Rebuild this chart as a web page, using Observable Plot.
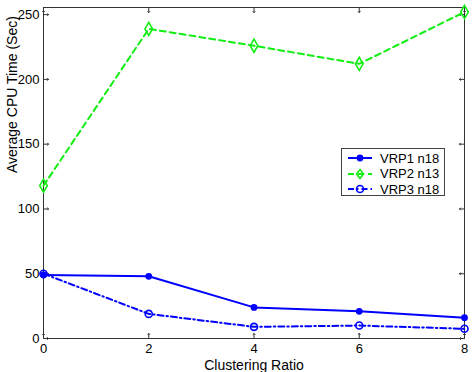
<!DOCTYPE html>
<html>
<head>
<meta charset="utf-8">
<script src="https://cdn.jsdelivr.net/npm/d3@7"></script>
<script src="https://cdn.jsdelivr.net/npm/@observablehq/plot@0.6"></script>
<style>
  html, body { margin: 0; padding: 0; background: #fff; }
  #wrap { position: relative; width: 474px; height: 372px; font-family: "Liberation Sans", Arial, sans-serif; }
  #legend { position: absolute; left: 341px; top: 148px; width: 104px; height: 48px; background: #fff; border: 1px solid #444; box-sizing: border-box; }
  .row { position: absolute; left: 0; height: 16px; display: flex; align-items: center; }
  .row span { font-size: 13px; color: #000; margin-left: 2px; }
</style>
</head>
<body>
<div id="wrap"><div id="legend"></div></div>
<script>
const xValues = [0, 2, 4, 6, 8];
const seriesNames = ["VRP1 n18", "VRP2 n13", "VRP3 n18"];
const vrp1 = [49, 48, 24, 21, 16];
const vrp2 = [118, 239, 226, 212, 252];
const vrp3 = [50, 19, 9, 10, 7.5];
const xTicks = [0, 2, 4, 6, 8];
const yTicks = [0, 50, 100, 150, 200, 250];

const blue = "#0000ff", green = "#11ee11";
const styles = [
  {color: blue, dash: null, symbol: "circle", fill: blue, r: 2.6},
  {color: green, dash: "6,4", symbol: "diamond", fill: "none", r: 4},
  {color: blue, dash: "6,3,1.5,3", symbol: "circle", fill: "none", r: 3.5}
];
const values = [vrp1, vrp2, vrp3];
const data = values.flatMap((vals, i) => vals.map((v, j) => ({x: xValues[j], y: v, s: i})));

const marks = [];
values.forEach((vals, i) => {
  const d = data.filter(p => p.s === i);
  const st = styles[i];
  marks.push(Plot.line(d, {x: "x", y: "y", stroke: st.color, strokeWidth: 2, strokeDasharray: st.dash}));
  marks.push(Plot.dot(d, {x: "x", y: "y", symbol: st.symbol, r: st.r, stroke: st.color, strokeWidth: 1.6, fill: st.fill}));
});

const chart = Plot.plot({
  width: 474,
  height: 372,
  marginLeft: 43,
  marginRight: 10,
  marginTop: 7,
  marginBottom: 34,
  style: {fontFamily: "Liberation Sans, Arial, sans-serif", fontSize: "13px", color: "#000", background: "#fff"},
  x: {domain: [0, 8]},
  y: {domain: [0, 255.5]},
  marks: [
    Plot.frame({stroke: "#333", strokeWidth: 1}),
    Plot.vectorX(xTicks, {x: d => d, frameAnchor: "bottom", length: 5, rotate: 0, anchor: "start", stroke: "#333", strokeWidth: 1}),
    Plot.vectorX(xTicks, {x: d => d, frameAnchor: "top", length: 5, rotate: 180, anchor: "start", stroke: "#333", strokeWidth: 1}),
    Plot.vectorY(yTicks, {y: d => d, frameAnchor: "left", length: 5, rotate: 90, anchor: "start", stroke: "#333", strokeWidth: 1}),
    Plot.vectorY(yTicks, {y: d => d, frameAnchor: "right", length: 5, rotate: -90, anchor: "start", stroke: "#333", strokeWidth: 1}),
    Plot.axisX(xTicks, {tickSize: 0, tickPadding: 5, label: null, fontSize: 13}),
    Plot.axisY(yTicks, {tickSize: 0, tickPadding: 4, label: null, fontSize: 13}),
    Plot.text(["Clustering Ratio"], {frameAnchor: "bottom", dy: 27, fontSize: 14, lineAnchor: "middle"}),
    Plot.text(["Average CPU Time (Sec)"], {frameAnchor: "left", dx: -31, rotate: -90, fontSize: 14, lineAnchor: "middle"}),
    ...marks
  ]
});
const wrap = document.getElementById("wrap");
wrap.insertBefore(chart, wrap.firstChild);

const legend = document.getElementById("legend");
seriesNames.forEach((name, i) => {
  const st = styles[i];
  const row = document.createElement("div");
  row.className = "row";
  row.style.top = (1 + i * 15.5) + "px";
  const sym = st.symbol === "diamond"
    ? `<path d="M18,3.5 L21.5,8 L18,12.5 L14.5,8 Z" fill="none" stroke="${st.color}" stroke-width="1.6"/>`
    : `<circle cx="18" cy="8" r="${st.r}" fill="${st.fill}" stroke="${st.color}" stroke-width="1.6"/>`;
  row.innerHTML = `<svg width="36" height="16"><line x1="6" x2="30" y1="8" y2="8" stroke="${st.color}" stroke-width="2" ${st.dash ? `stroke-dasharray="${st.dash}"` : ""}/>${sym}</svg><span>${name}</span>`;
  legend.appendChild(row);
});
</script>
</body>
</html>
